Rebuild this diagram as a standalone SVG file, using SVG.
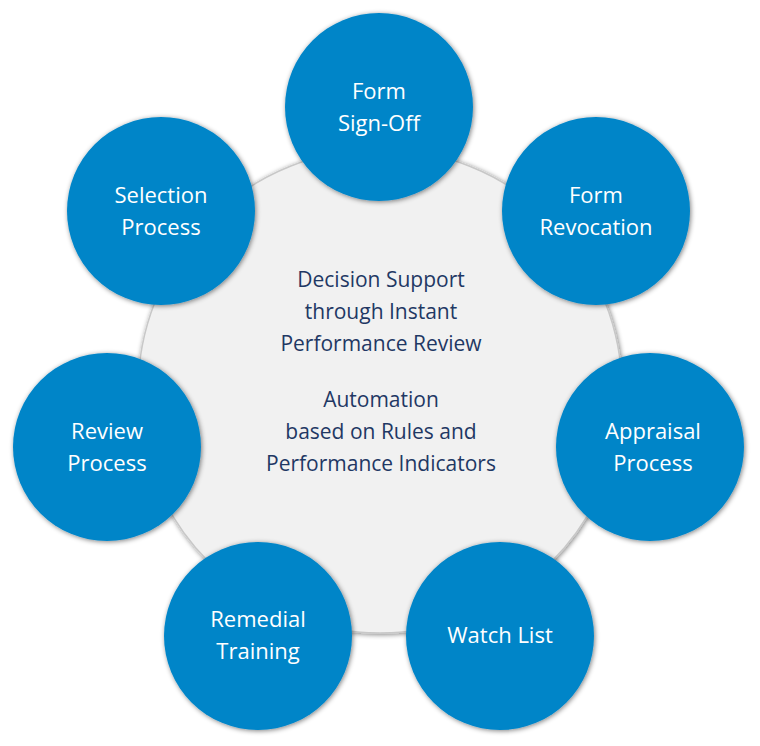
<svg xmlns="http://www.w3.org/2000/svg" width="760" height="746" viewBox="0 0 760 746">
<defs>
<filter id="sh" x="-20%" y="-20%" width="140%" height="140%"><feGaussianBlur in="SourceAlpha" stdDeviation="2.5"/><feOffset dx="1" dy="1"/><feComponentTransfer><feFuncA type="linear" slope="0.5"/></feComponentTransfer><feMerge><feMergeNode/><feMergeNode in="SourceGraphic"/></feMerge></filter>
</defs>
<style>
.n{fill:#0085c8;filter:url(#sh)}
.t{fill:#fff;font-family:"Open Sans","Liberation Sans",sans-serif;font-size:22px;text-anchor:middle}
.c{fill:#1f3864;font-family:"Open Sans","Liberation Sans",sans-serif;font-size:21px;text-anchor:middle}
</style>
<rect width="760" height="746" fill="#fff"/>
<g id="center"><circle cx="380" cy="391" r="242" fill="#f1f1f1" stroke="#c8c8c8" stroke-width="1.5" filter="url(#sh)"/>
<text class="c"><tspan x="381" y="287">Decision Support</tspan><tspan x="381" y="319">through Instant</tspan><tspan x="381" y="351">Performance Review</tspan><tspan x="381" y="407">Automation</tspan><tspan x="381" y="439">based on Rules and</tspan><tspan x="381" y="471">Performance Indicators</tspan></text></g>
<g id="connectors"/>
<g id="signoff"><circle class="n" cx="379" cy="107" r="94"/><text class="t"><tspan x="379" y="99">Form</tspan><tspan x="379" y="131">Sign-Off</tspan></text></g>
<g id="revocation"><circle class="n" cx="596" cy="211" r="94"/><text class="t"><tspan x="596" y="203">Form</tspan><tspan x="596" y="235">Revocation</tspan></text></g>
<g id="appraisal"><circle class="n" cx="650" cy="447" r="94"/><text class="t"><tspan x="653" y="439">Appraisal</tspan><tspan x="653" y="471">Process</tspan></text></g>
<g id="watch"><circle class="n" cx="500" cy="636" r="94"/><text class="t"><tspan x="500" y="643">Watch List</tspan></text></g>
<g id="remedial"><circle class="n" cx="258" cy="636" r="94"/><text class="t"><tspan x="258" y="627">Remedial</tspan><tspan x="258" y="659">Training</tspan></text></g>
<g id="review"><circle class="n" cx="107" cy="447" r="94"/><text class="t"><tspan x="107" y="439">Review</tspan><tspan x="107" y="471">Process</tspan></text></g>
<g id="selection"><circle class="n" cx="161" cy="211" r="94"/><text class="t"><tspan x="161" y="203">Selection</tspan><tspan x="161" y="235">Process</tspan></text></g>
</svg>
